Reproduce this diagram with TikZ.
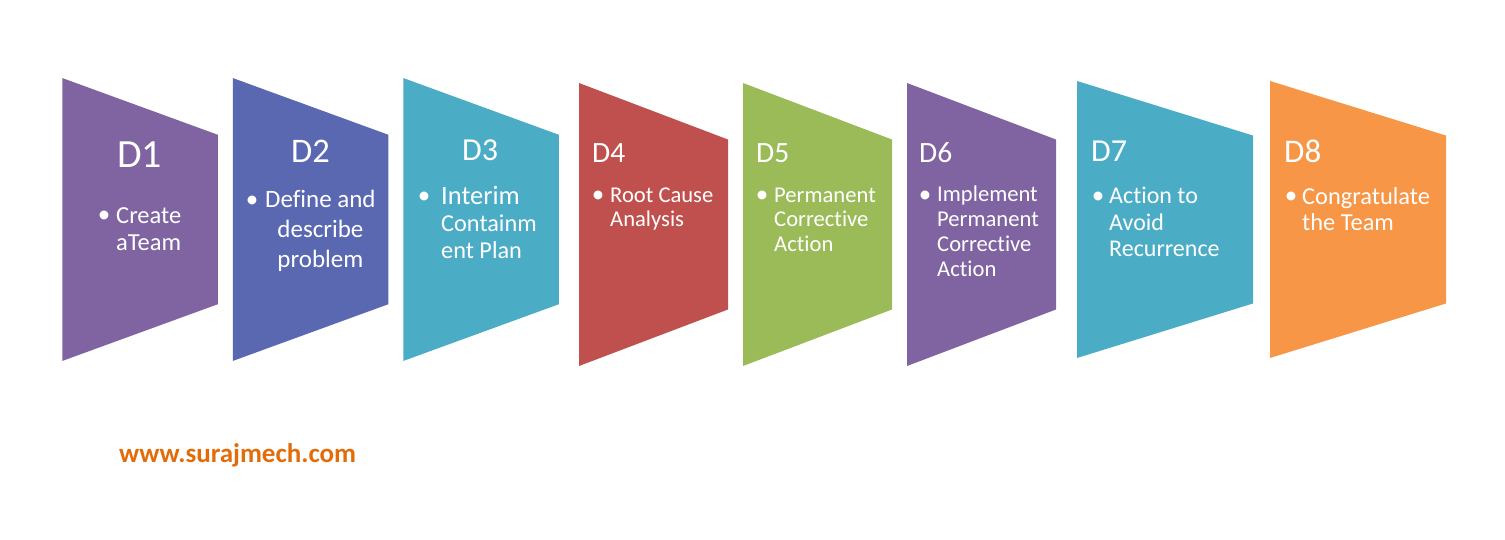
\documentclass[tikz,border=0pt]{standalone}
\usepackage{fontspec}
\setmainfont{Carlito}[Ligatures=NoCommon]
\usetikzlibrary{shapes.geometric, positioning}
\definecolor{stagepurple}{HTML}{8064A2}
\definecolor{stageblue}{HTML}{5A67B1}
\definecolor{stageteal}{HTML}{4BACC6}
\definecolor{stagered}{HTML}{C0504D}
\definecolor{stagegreen}{HTML}{9BBB59}
\definecolor{stageorange}{HTML}{F79646}
\definecolor{sitecolor}{HTML}{E36C0A}
\newcommand{\fsize}[2]{\fontsize{#1bp}{#2bp}\selectfont}
\tikzstyle{stage} = [trapezium, trapezium stretches=true, rotate=-90, inner sep=2pt, outer sep=0pt]
\tikzstyle{wide} = [stage, minimum width=283bp, minimum height=155.5bp, trapezium left angle=71.5, trapezium right angle=71.5]
\tikzstyle{narrow} = [stage, minimum width=283bp, minimum height=149bp, trapezium left angle=71.6, trapezium right angle=71.6]
\tikzstyle{long} = [stage, minimum width=277bp, minimum height=176bp, trapezium left angle=72, trapezium right angle=72]
\tikzstyle{head} = [anchor=west, text=white, inner sep=0pt]
\tikzstyle{body} = [anchor=north west, text=white, align=left, inner sep=0pt]
\tikzstyle{dot} = [anchor=center, text=white, inner sep=0pt, font=\fsize{25}{27}]
\begin{document}
\begin{tikzpicture}[x=1bp, y=-1bp]
	\useasboundingbox (0,0) rectangle (1505,540);

	% Stages
	\node(d1) [wide, fill=stagepurple] at (140,219.5) {};
	\node(d2) [wide, fill=stageblue] at (310.5,219.5) {};
	\node(d3) [wide, fill=stageteal] at (481,219.5) {};
	\node(d4) [narrow, fill=stagered] at (653.5,224.5) {};
	\node(d5) [narrow, fill=stagegreen] at (817.5,224.5) {};
	\node(d6) [narrow, fill=stagepurple] at (981.5,224.5) {};
	\node(d7) [long, fill=stageteal] at (1165,219.5) {};
	\node(d8) [long, fill=stageorange] at (1358,219.5) {};

	% Headings
	\node(h1) [head, font=\fsize{40}{42}] at (117,154.5) {D1};
	\node(h2) [head, font=\fsize{34.5}{36}] at (291,151) {D2};
	\node(h3) [head, font=\fsize{32}{34}] at (462,150.5) {D3};
	\node(h4) [head, font=\fsize{29.5}{31}] at (592,153) {D4};
	\node(h5) [head, font=\fsize{29.5}{31}] at (756,153) {D5};
	\node(h6) [head, font=\fsize{29.5}{31}] at (919,153) {D6};
	\node(h7) [head, font=\fsize{32}{34}] at (1091,151) {D7};
	\node(h8) [head, font=\fsize{33}{35}] at (1284,151) {D8};

	% Bullet points
	\node(t1) [body, font=\fsize{24.5}{27}] at (116,207.5) {Create\\aTeam};
	\node(t2) [body, font=\fsize{25}{30}, align=center] at (265,190) {Define and\\describe\\problem};
	\node(t3) [body, font=\fsize{24.3}{27}] at (441,186) {{\fsize{26.5}{27}Interim}\\Containm\\ent Plan};
	\node(t4) [body, font=\fsize{22.6}{24.5}] at (610,187.5) {Root Cause\\Analysis};
	\node(t5) [body, font=\fsize{22.6}{24.5}] at (774,187.5) {Permanent\\Corrective\\Action};
	\node(t6) [body, font=\fsize{22.6}{25}] at (937,186) {Implement\\Permanent\\Corrective\\Action};
	\node(t7) [body, font=\fsize{24}{26.5}] at (1109,187) {Action to\\Avoid\\Recurrence};
	\node(t8) [body, font=\fsize{24.4}{26}] at (1302,187) {Congratulate\\the Team};

	\node(b1) [dot] at (104,217) {•};
	\node(b2) [dot] at (252,202) {•};
	\node(b3) [dot] at (424,197.5) {•};
	\node(b4) [dot] at (598,196.5) {•};
	\node(b5) [dot] at (762,196.5) {•};
	\node(b6) [dot] at (925,196.5) {•};
	\node(b7) [dot] at (1098,197.5) {•};
	\node(b8) [dot] at (1291,197.5) {•};

	\node(site) [anchor=west, text=sitecolor, inner sep=0pt, font=\fsize{27}{29}\bfseries] at (119,455) {www.surajmech.com};
\end{tikzpicture}
\end{document}
